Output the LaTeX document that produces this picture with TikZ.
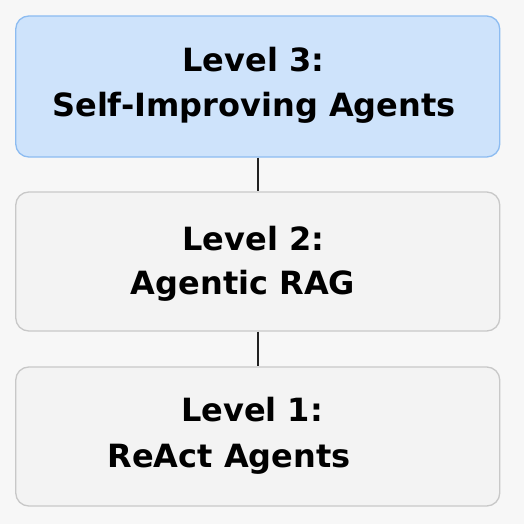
\documentclass[tikz,border=0pt]{standalone}
\usepackage{fontspec}
\setmainfont{DejaVu Sans}
\definecolor{bgcol}{HTML}{F7F7F7}
\definecolor{topfill}{HTML}{CEE3FB}
\definecolor{topline}{HTML}{8DBCF1}
\definecolor{boxfill}{HTML}{F3F3F3}
\definecolor{boxline}{HTML}{C8C8C8}
\definecolor{conn}{HTML}{222222}
\begin{document}
\begin{tikzpicture}[x=1pt,y=-1pt,
    box/.style={draw=boxline,fill=boxfill,line width=1.3pt,rounded corners=13pt,minimum width=484pt,minimum height=139pt,inner sep=0pt},
    lbl/.style={anchor=base,inner sep=0pt,font=\fontsize{32}{38}\selectfont\bfseries}]
    \fill[bgcol] (0,0) rectangle (524,524);
    \useasboundingbox (0,0) rectangle (524,524);
    \node[box,fill=topfill,draw=topline,minimum height=141pt] (lvlthree) at (257.75,86.5) {};
    \node[box] (lvltwo) at (257.75,261.5) {};
    \node[box] (lvlone) at (257.75,436.5) {};
    \node[lbl] (lvlthreea) at (253.5,71.5) {Level 3:};
    \node[lbl] (lvlthreeb) at (254,117) {Self-Improving Agents};
    \node[lbl] (lvltwoa) at (253.5,250.7) {Level 2:};
    \node[lbl] (lvltwob) at (243,294.5) {Agentic RAG};
    \node[lbl] (lvlonea) at (252,421) {Level 1:};
    \node[lbl] (lvloneb) at (229,467) {ReAct Agents};
    \draw[conn,line width=1.8pt] (lvlthree.south) -- (lvltwo.north);
    \draw[conn,line width=1.8pt] (lvltwo.south) -- (lvlone.north);
\end{tikzpicture}
\end{document}
